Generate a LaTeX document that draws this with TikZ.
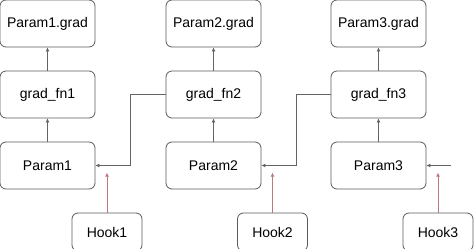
\documentclass[tikz,border=0pt]{standalone}
\usepackage{fontspec}
\setmainfont{Liberation Sans}
\usetikzlibrary{arrows.meta,positioning}
\definecolor{boxLine}{RGB}{90,90,90}
\definecolor{linkLine}{RGB}{100,100,100}
\definecolor{hookLine}{RGB}{190,120,125}
\tikzset{
    every node/.append style={align=center},
    box/.style={rectangle,draw=boxLine,thick,rounded corners=6pt,minimum height=47pt,
        minimum width=95pt,font=\fontsize{14}{17}\selectfont,inner sep=0pt},
    hook/.style={box,minimum width=70pt,minimum height=38pt},
    arr/.style={-{Latex[length=4pt,width=4pt]},draw=linkLine,line width=0.8pt},
    harr/.style={-{Latex[length=4pt,width=4pt]},draw=hookLine,line width=0.8pt}
}
\begin{document}
\begin{tikzpicture}[x=1pt,y=-1pt]
    \useasboundingbox (0,0) rectangle (474,249);
    \node[box] (g1)  at ( 47.5, 23.5) {Param1.grad};
    \node[box] (g2)  at (213.5, 23.5) {Param2.grad};
    \node[box] (g3)  at (378.5, 23.5) {Param3.grad};
    \node[box] (fn1) at ( 47.5, 94.5) {grad\_fn1};
    \node[box] (fn2) at (213.5, 94.5) {grad\_fn2};
    \node[box] (fn3) at (378.5, 94.5) {grad\_fn3};
    \node[box] (p1)  at ( 47.5,165.5) {Param1};
    \node[box] (p2)  at (213.5,165.5) {Param2};
    \node[box] (p3)  at (378.5,165.5) {Param3};
    \node[hook] (h1) at (107.0,232) {Hook1};
    \node[hook] (h2) at (272.5,232) {Hook2};
    \node[hook] (h3) at (438.0,232) {Hook3};
    \coordinate (in3) at (451,165.5);

    \foreach \i in {1,2,3} {
        \draw[arr] (fn\i) -- (g\i);
        \draw[arr] (p\i) -- (fn\i);
        \draw[harr] (h\i.north) -- ++(0,-40);
    }
    \draw[arr] (fn2.west) -- (130,94.5) |- (p1.east);
    \draw[arr] (fn3.west) -- (296,94.5) |- (p2.east);
    \draw[arr] (in3) -- (p3.east);
\end{tikzpicture}
\end{document}
